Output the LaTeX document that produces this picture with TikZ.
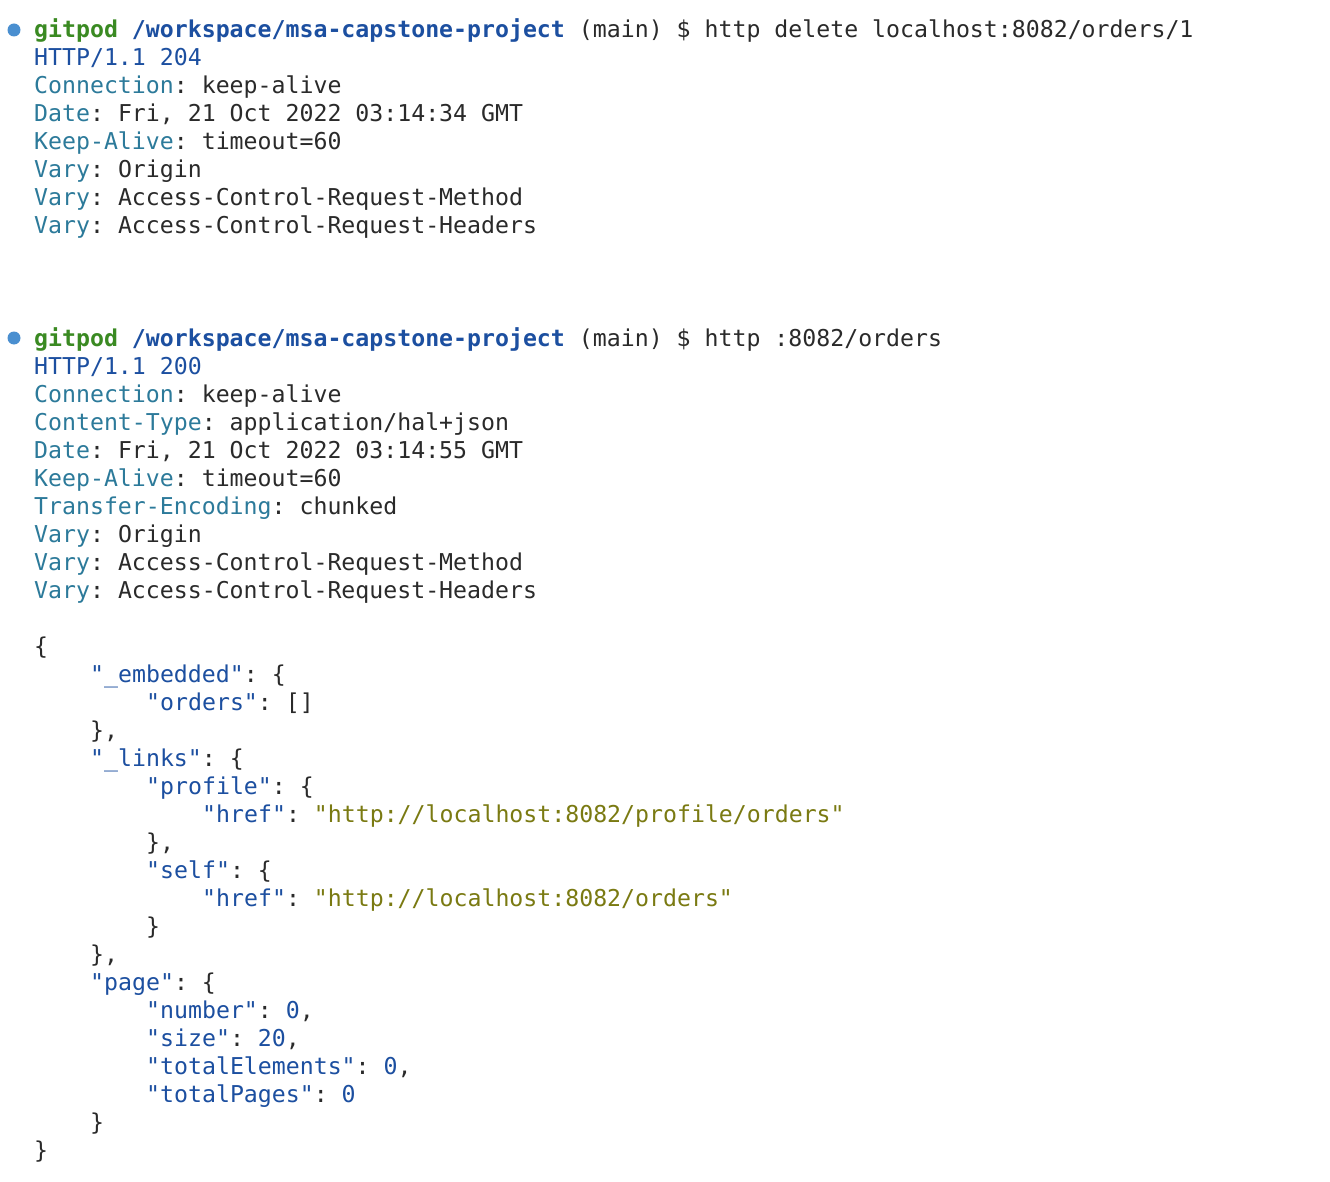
\documentclass[tikz,border=0pt]{standalone}
\usepackage{fontspec}
\newfontfamily\mono{DejaVu Sans Mono}
\frenchspacing
\definecolor{tgreen}{HTML}{3A8A22}
\definecolor{tpath}{HTML}{1C4FA0}
\definecolor{thdr}{HTML}{2C7A9A}
\definecolor{tkey}{HTML}{1C4FA0}
\definecolor{tstr}{HTML}{7A7A12}
\definecolor{ttxt}{HTML}{2A2A2A}
\definecolor{tdot}{HTML}{4A8FD0}
\newcommand{\tG}[1]{\textcolor{tgreen}{\bfseries #1}}
\newcommand{\tP}[1]{\textcolor{tpath}{\bfseries #1}}
\newcommand{\tH}[1]{\textcolor{thdr}{#1}}
\newcommand{\tK}[1]{\textcolor{tkey}{#1}}
\newcommand{\tS}[1]{\textcolor{tstr}{#1}}
\newcommand{\tLn}[4]{\node[ln] (#1) at (34+14*#2,#3+8) {#4};}
\begin{document}
\begin{tikzpicture}[x=1pt,y=-1pt,
  ln/.style={anchor=base west,inner sep=0pt,font=\mono\fontsize{23.2}{28}\selectfont\frenchspacing,text=ttxt}]
\useasboundingbox[fill=white] (0,0) rectangle (1330,1182);
\fill[tdot] (14,30) circle (6.5);
\tLn{a1}{0}{30}{\tG{gitpod} \tP{/workspace/msa-capstone-project} (main) \$ http delete localhost:8082/orders/1}
\tLn{a2}{0}{58}{\tK{HTTP/1.1 204}}
\tLn{a3}{0}{86}{\tH{Connection}: keep-alive}
\tLn{a4}{0}{114}{\tH{Date}: Fri, 21 Oct 2022 03:14:34 GMT}
\tLn{a5}{0}{142}{\tH{Keep-Alive}: timeout=60}
\tLn{a6}{0}{170}{\tH{Vary}: Origin}
\tLn{a7}{0}{198}{\tH{Vary}: Access-Control-Request-Method}
\tLn{a8}{0}{226}{\tH{Vary}: Access-Control-Request-Headers}
\fill[tdot] (14,338) circle (6.5);
\tLn{b1}{0}{338}{\tG{gitpod} \tP{/workspace/msa-capstone-project} (main) \$ http :8082/orders}
\tLn{b2}{0}{366}{\tK{HTTP/1.1 200}}
\tLn{b3}{0}{394}{\tH{Connection}: keep-alive}
\tLn{b4}{0}{422}{\tH{Content-Type}: application/hal+json}
\tLn{b5}{0}{450}{\tH{Date}: Fri, 21 Oct 2022 03:14:55 GMT}
\tLn{b6}{0}{478}{\tH{Keep-Alive}: timeout=60}
\tLn{b7}{0}{506}{\tH{Transfer-Encoding}: chunked}
\tLn{b8}{0}{534}{\tH{Vary}: Origin}
\tLn{b9}{0}{562}{\tH{Vary}: Access-Control-Request-Method}
\tLn{b10}{0}{590}{\tH{Vary}: Access-Control-Request-Headers}
\tLn{c1}{0}{646}{\{}
\tLn{c2}{4}{674}{\tK{"\_embedded"}: \{}
\tLn{c3}{8}{702}{\tK{"orders"}: []}
\tLn{c4}{4}{730}{\},}
\tLn{c5}{4}{758}{\tK{"\_links"}: \{}
\tLn{c6}{8}{786}{\tK{"profile"}: \{}
\tLn{c7}{12}{814}{\tK{"href"}: \tS{"http://localhost:8082/profile/orders"}}
\tLn{c8}{8}{842}{\},}
\tLn{c9}{8}{870}{\tK{"self"}: \{}
\tLn{c10}{12}{898}{\tK{"href"}: \tS{"http://localhost:8082/orders"}}
\tLn{c11}{8}{926}{\}}
\tLn{c12}{4}{954}{\},}
\tLn{c13}{4}{982}{\tK{"page"}: \{}
\tLn{c14}{8}{1010}{\tK{"number"}: \tK{0},}
\tLn{c15}{8}{1038}{\tK{"size"}: \tK{20},}
\tLn{c16}{8}{1066}{\tK{"totalElements"}: \tK{0},}
\tLn{c17}{8}{1094}{\tK{"totalPages"}: \tK{0}}
\tLn{c18}{4}{1122}{\}}
\tLn{c19}{0}{1150}{\}}
\end{tikzpicture}
\end{document}
